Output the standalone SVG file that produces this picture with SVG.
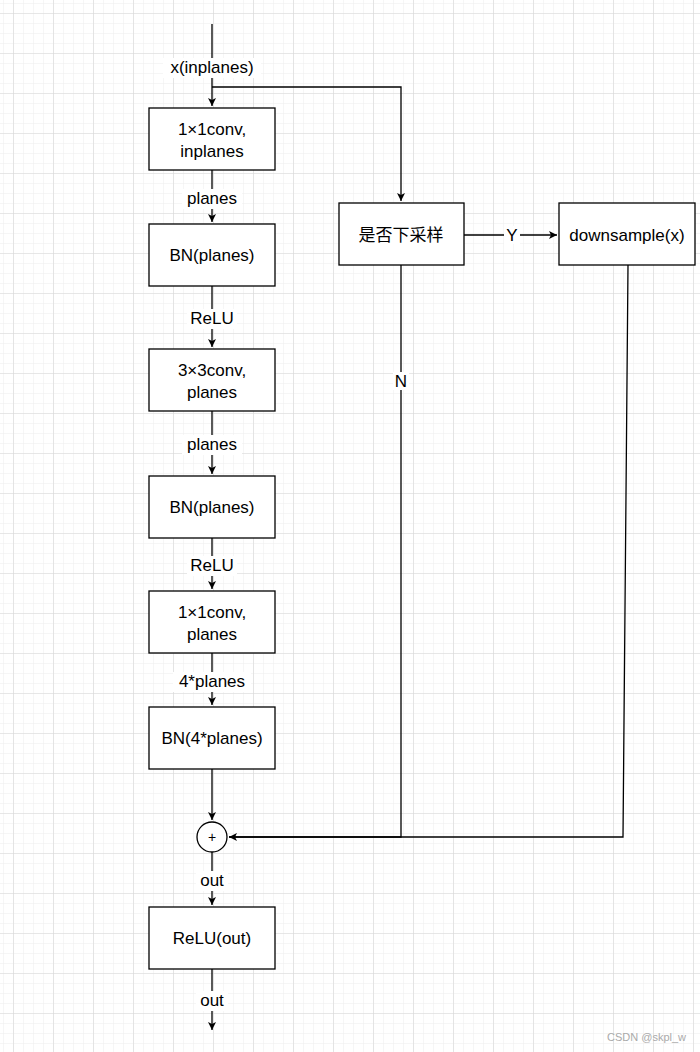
<svg xmlns="http://www.w3.org/2000/svg" width="700" height="1052" viewBox="0 0 700 1052">
<style>
.n{fill:#fff;stroke:#000;stroke-width:1.3}
.t{font-family:"Liberation Sans",Arial,"Noto Sans CJK SC",sans-serif;font-size:17px;fill:#000;text-anchor:middle}
.l{fill:#fff}
.c{fill:none;stroke:#000;stroke-width:1.3}
</style>
<defs>
<marker id="a" markerWidth="10" markerHeight="10" refX="9" refY="5" orient="auto" markerUnits="userSpaceOnUse"><path d="M1,1 L9,5 L1,9 L3,5 Z" fill="#000"/></marker>
<pattern id="g1" width="10" height="10" patternUnits="userSpaceOnUse" x="3" y="3"><path d="M0,0H10M0,0V10" stroke="#ededed" stroke-width="1" fill="none"/></pattern>
<pattern id="g2" width="40" height="40" patternUnits="userSpaceOnUse" x="13" y="13"><path d="M0,0H40M0,0V40" stroke="#d8d8d8" stroke-width="1.2" fill="none"/></pattern>
</defs>
<rect width="700" height="1052" fill="#fff"/>
<rect width="700" height="1052" fill="url(#g1)"/>
<rect width="700" height="1052" fill="url(#g2)"/>
<g id="connectors">
<path class="c" d="M212,24V106" marker-end="url(#a)"/>
<path class="c" d="M212,87H401V201" marker-end="url(#a)"/>
<path class="c" d="M212,170V222" marker-end="url(#a)"/>
<path class="c" d="M212,286V347" marker-end="url(#a)"/>
<path class="c" d="M212,411V474" marker-end="url(#a)"/>
<path class="c" d="M212,538V589" marker-end="url(#a)"/>
<path class="c" d="M212,653V705" marker-end="url(#a)"/>
<path class="c" d="M212,769V820" marker-end="url(#a)"/>
<path class="c" d="M212,852V905" marker-end="url(#a)"/>
<path class="c" d="M212,969V1030" marker-end="url(#a)"/>
<path class="c" d="M464,235H557" marker-end="url(#a)"/>
<path class="c" d="M401,265V837H229"/>
<path class="c" d="M628,265L623,837H229" marker-end="url(#a)"/>
<rect class="l" x="163" y="58" width="98" height="20"/><text class="t" x="212" y="73">x(inplanes)</text>
<rect class="l" x="182" y="189" width="60" height="20"/><text class="t" x="212" y="204">planes</text>
<rect class="l" x="187" y="309" width="50" height="20"/><text class="t" x="212" y="324">ReLU</text>
<rect class="l" x="182" y="435" width="60" height="20"/><text class="t" x="212" y="450">planes</text>
<rect class="l" x="187" y="556" width="50" height="20"/><text class="t" x="212" y="571">ReLU</text>
<rect class="l" x="173" y="672" width="78" height="20"/><text class="t" x="212" y="687">4*planes</text>
<rect class="l" x="196" y="871" width="32" height="20"/><text class="t" x="212" y="886">out</text>
<rect class="l" x="196" y="991" width="32" height="20"/><text class="t" x="212" y="1006">out</text>
<rect class="l" x="504" y="226" width="16" height="18"/><text class="t" x="512" y="241">Y</text>
<rect class="l" x="393" y="372" width="16" height="18"/><text class="t" x="401" y="387">N</text>
</g>
<g id="n1"><rect class="n" x="149" y="108" width="126" height="62"/><text class="t" x="212" y="135">1×1conv,</text><text class="t" x="212" y="157">inplanes</text></g>
<g id="n2"><rect class="n" x="149" y="224" width="126" height="62"/><text class="t" x="212" y="261">BN(planes)</text></g>
<g id="n3"><rect class="n" x="149" y="349" width="126" height="62"/><text class="t" x="212" y="376">3×3conv,</text><text class="t" x="212" y="398">planes</text></g>
<g id="n4"><rect class="n" x="149" y="476" width="126" height="62"/><text class="t" x="212" y="513">BN(planes)</text></g>
<g id="n5"><rect class="n" x="149" y="591" width="126" height="62"/><text class="t" x="212" y="618">1×1conv,</text><text class="t" x="212" y="640">planes</text></g>
<g id="n6"><rect class="n" x="149" y="707" width="126" height="62"/><text class="t" x="212" y="744">BN(4*planes)</text></g>
<g id="add"><circle class="n" cx="212" cy="837" r="15"/><text class="t" x="212" y="842" style="font-size:14px">+</text></g>
<g id="n7"><rect class="n" x="149" y="907" width="126" height="62"/><text class="t" x="212" y="944">ReLU(out)</text></g>
<g id="dec"><rect class="n" x="339" y="203" width="125" height="62"/><text class="t" x="401" y="241">是否下采样</text></g>
<g id="ds"><rect class="n" x="559" y="203" width="136" height="62"/><text class="t" x="627" y="241">downsample(x)</text></g>
<text x="686" y="1041" style="font-family:'Liberation Sans',sans-serif;font-size:11px;fill:#aaa;text-anchor:end">CSDN @skpl_w</text>
</svg>
